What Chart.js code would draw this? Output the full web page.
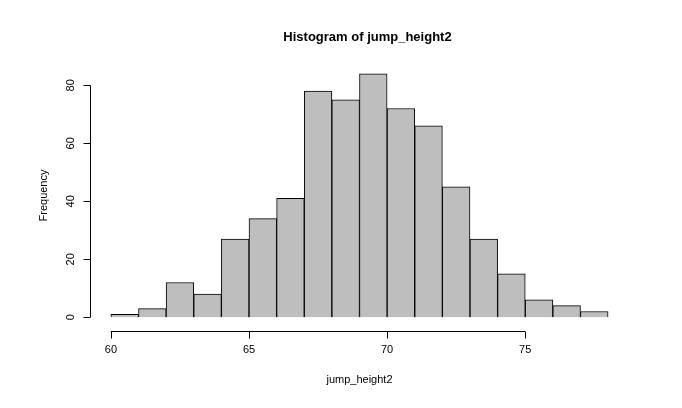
<!DOCTYPE html>
<html><head><meta charset="utf-8">
<script src="https://cdn.jsdelivr.net/npm/chart.js@4/dist/chart.umd.min.js"></script>
<style>html,body{margin:0;padding:0;background:#fff}#w{width:682px;height:408px}</style>
</head><body><div id="w"><canvas id="c"></canvas></div>
<script>
const binStarts = [60,61,62,63,64,65,66,67,68,69,70,71,72,73,74,75,76,77];
const counts = [1,3,12,8,27,34,41,78,75,84,72,66,45,27,15,6,4,2];
const xTicks = [60,65,70,75];
const yTicks = [0,20,40,60,80];
const title = "Histogram of jump_height2";
const xLabel = "jump_height2";
const yLabel = "Frequency";

const font = '"Liberation Sans", Arial, sans-serif';
const axesPlugin = {
  id:'rAxes',
  afterDraw(chart){
    const ctx = chart.ctx, xs = chart.scales.x, ys = chart.scales.y, a = chart.chartArea;
    ctx.save();
    ctx.strokeStyle='#000'; ctx.fillStyle='#000'; ctx.lineWidth=1;
    const ay = a.bottom + 4.5, ax = a.left - 0.5;
    ctx.beginPath();
    ctx.moveTo(xs.getPixelForValue(xTicks[0]), ay); ctx.lineTo(xs.getPixelForValue(xTicks[xTicks.length-1]), ay);
    xTicks.forEach(t=>{const p=Math.round(xs.getPixelForValue(t))+0.5; ctx.moveTo(p,ay); ctx.lineTo(p,ay+7);});
    ctx.moveTo(ax, ys.getPixelForValue(yTicks[0])); ctx.lineTo(ax, ys.getPixelForValue(yTicks[yTicks.length-1]));
    yTicks.forEach(t=>{const p=Math.round(ys.getPixelForValue(t))+0.5; ctx.moveTo(ax,p); ctx.lineTo(ax-7,p);});
    ctx.stroke();
    ctx.font = '11px '+font; ctx.textAlign='center'; ctx.textBaseline='middle';
    xTicks.forEach(t=>ctx.fillText(String(t), xs.getPixelForValue(t), ay+18));
    yTicks.forEach(t=>{ctx.save(); ctx.translate(ax-20, ys.getPixelForValue(t)); ctx.rotate(-Math.PI/2); ctx.fillText(String(t),0,0); ctx.restore();});
    ctx.fillText(xLabel, (a.left+a.right)/2, 380);
    ctx.save(); ctx.translate(44,(a.top+a.bottom)/2); ctx.rotate(-Math.PI/2); ctx.fillText(yLabel,0,0); ctx.restore();
    ctx.font = 'bold 13px '+font;
    ctx.fillText(title, (a.left+a.right)/2 + 8, 37);
    ctx.restore();
  }
};
new Chart(document.getElementById('c'), {
  type:'bar',
  data:{datasets:[{data: binStarts.map((s,i)=>({x:s+0.5,y:counts[i]})),
    backgroundColor:'#bebebe', borderColor:'#000', borderWidth:1,
    barPercentage:1, categoryPercentage:1}]},
  options:{responsive:true, maintainAspectRatio:false, animation:false,
    layout:{padding:{left:91,right:54,top:64,bottom:81}},
    plugins:{legend:{display:false},tooltip:{enabled:false}},
    scales:{x:{type:'linear',display:false,min:59.28,max:78.72,offset:false},
            y:{display:false,min:-3.36,max:87.36}}},
  plugins:[axesPlugin]
});
</script></body></html>
